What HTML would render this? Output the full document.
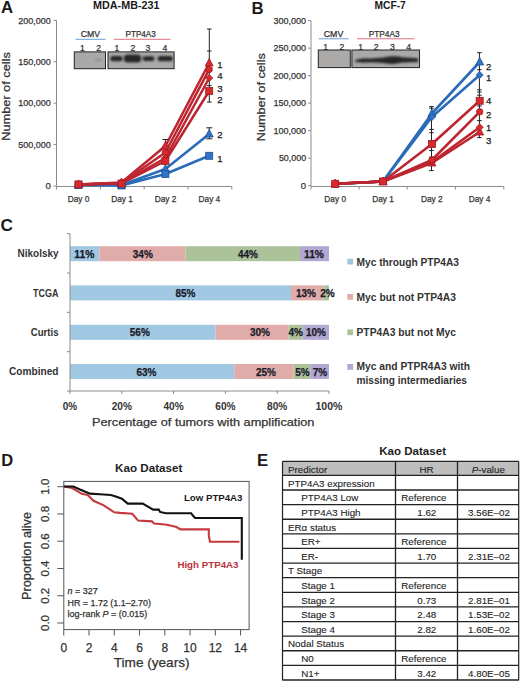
<!DOCTYPE html><html><head><meta charset="utf-8"><style>html,body{margin:0;padding:0;background:#fff;}svg{display:block;}</style></head><body>
<svg width="520" height="681" viewBox="0 0 520 681" font-family='"Liberation Sans", sans-serif'>
<rect width="520" height="681" fill="#fff"/>
<text x="0.9" y="13.4" font-size="16.8" text-anchor="start" fill="#1a1a1a" font-weight="bold" >A</text>
<text x="93" y="8.8" font-size="10" text-anchor="start" fill="#1a1a1a" font-weight="bold" textLength="66.5" lengthAdjust="spacingAndGlyphs" >MDA-MB-231</text>
<text x="50.9" y="23.599999999999998" font-size="9.6" text-anchor="end" fill="#333" stroke="#333" stroke-width="0.25" textLength="32.6" lengthAdjust="spacingAndGlyphs" >200,000</text>
<line x1="53.5" y1="20.4" x2="56.5" y2="20.4" stroke="#8c8c8c" stroke-width="1"/>
<text x="50.9" y="65.0" font-size="9.6" text-anchor="end" fill="#333" stroke="#333" stroke-width="0.25" textLength="32.6" lengthAdjust="spacingAndGlyphs" >150,000</text>
<line x1="53.5" y1="61.8" x2="56.5" y2="61.8" stroke="#8c8c8c" stroke-width="1"/>
<text x="50.9" y="106.4" font-size="9.6" text-anchor="end" fill="#333" stroke="#333" stroke-width="0.25" textLength="32.6" lengthAdjust="spacingAndGlyphs" >100,000</text>
<line x1="53.5" y1="103.2" x2="56.5" y2="103.2" stroke="#8c8c8c" stroke-width="1"/>
<text x="50.9" y="147.79999999999998" font-size="9.6" text-anchor="end" fill="#333" stroke="#333" stroke-width="0.25" textLength="32.6" lengthAdjust="spacingAndGlyphs" >500,000</text>
<line x1="53.5" y1="144.6" x2="56.5" y2="144.6" stroke="#8c8c8c" stroke-width="1"/>
<text x="50.9" y="189.2" font-size="9.6" text-anchor="end" fill="#333" stroke="#333" stroke-width="0.25" >0</text>
<line x1="53.5" y1="186.0" x2="56.5" y2="186.0" stroke="#8c8c8c" stroke-width="1"/>
<line x1="56.5" y1="20.4" x2="56.5" y2="186.5" stroke="#8c8c8c" stroke-width="1"/>
<line x1="56.5" y1="186.5" x2="231.8" y2="186.5" stroke="#8c8c8c" stroke-width="1"/>
<line x1="56.5" y1="186.5" x2="56.5" y2="189.5" stroke="#8c8c8c" stroke-width="1"/>
<line x1="100.3" y1="186.5" x2="100.3" y2="189.5" stroke="#8c8c8c" stroke-width="1"/>
<line x1="144.2" y1="186.5" x2="144.2" y2="189.5" stroke="#8c8c8c" stroke-width="1"/>
<line x1="188.0" y1="186.5" x2="188.0" y2="189.5" stroke="#8c8c8c" stroke-width="1"/>
<line x1="231.8" y1="186.5" x2="231.8" y2="189.5" stroke="#8c8c8c" stroke-width="1"/>
<text x="78.5" y="202.3" font-size="9" text-anchor="middle" fill="#333" stroke="#333" stroke-width="0.25" textLength="21.7" lengthAdjust="spacingAndGlyphs" >Day 0</text>
<text x="122.0" y="202.3" font-size="9" text-anchor="middle" fill="#333" stroke="#333" stroke-width="0.25" textLength="21.7" lengthAdjust="spacingAndGlyphs" >Day 1</text>
<text x="165.6" y="202.3" font-size="9" text-anchor="middle" fill="#333" stroke="#333" stroke-width="0.25" textLength="21.7" lengthAdjust="spacingAndGlyphs" >Day 2</text>
<text x="209.4" y="202.3" font-size="9" text-anchor="middle" fill="#333" stroke="#333" stroke-width="0.25" textLength="21.7" lengthAdjust="spacingAndGlyphs" >Day 4</text>
<text x="0" y="0" font-size="10" fill="#333" stroke="#333" stroke-width="0.25" textLength="88.5" lengthAdjust="spacingAndGlyphs" text-anchor="middle" transform="translate(10.2,96.5) rotate(-90)">Number of cells</text>
<text x="80.75" y="37" font-size="8.6" text-anchor="start" fill="#333" stroke="#333" stroke-width="0.25" textLength="19.3" lengthAdjust="spacingAndGlyphs" >CMV</text>
<text x="125.5" y="37" font-size="8.6" text-anchor="start" fill="#333" stroke="#333" stroke-width="0.25" textLength="30.3" lengthAdjust="spacingAndGlyphs" >PTP4A3</text>
<line x1="75.5" y1="39.3" x2="105.5" y2="39.3" stroke="#6a9fd4" stroke-width="1"/>
<line x1="113.8" y1="39.3" x2="170.5" y2="39.3" stroke="#e07080" stroke-width="1"/>
<text x="82.5" y="51" font-size="8.6" text-anchor="middle" fill="#333" stroke="#333" stroke-width="0.25" >1</text>
<text x="98.75" y="51" font-size="8.6" text-anchor="middle" fill="#333" stroke="#333" stroke-width="0.25" >2</text>
<text x="117" y="51" font-size="8.6" text-anchor="middle" fill="#333" stroke="#333" stroke-width="0.25" >1</text>
<text x="133" y="51" font-size="8.6" text-anchor="middle" fill="#333" stroke="#333" stroke-width="0.25" >2</text>
<text x="148" y="51" font-size="8.6" text-anchor="middle" fill="#333" stroke="#333" stroke-width="0.25" >3</text>
<text x="165" y="51" font-size="8.6" text-anchor="middle" fill="#333" stroke="#333" stroke-width="0.25" >4</text>
<rect x="74.3" y="51.9" width="31.2" height="16.8" fill="#aaa9a9" stroke="#222" stroke-width="1"/>
<rect x="108" y="51.9" width="66.1" height="16.8" fill="#a9a9a9" stroke="#222" stroke-width="1"/>
<defs><filter id="bl" x="-50%" y="-50%" width="200%" height="200%"><feGaussianBlur stdDeviation="0.9"/></filter></defs>
<rect x="110.3" y="56.0" width="12.4" height="5.2" rx="2.6" ry="2.6" fill="#282828" filter="url(#bl)"/>
<rect x="123.7" y="54.6" width="17.6" height="8.0" rx="4.0" ry="4.0" fill="#282828" filter="url(#bl)"/>
<rect x="142.6" y="56.2" width="12.0" height="4.8" rx="2.4" ry="2.4" fill="#282828" filter="url(#bl)"/>
<rect x="157.6" y="55.9" width="15.2" height="5.4" rx="2.7" ry="2.7" fill="#282828" filter="url(#bl)"/>
<ellipse cx="98.5" cy="60" rx="3.5" ry="1.1" fill="#8a8a8a" filter="url(#bl)"/>
<polyline points="78.5,185 121.5,185 165.4,169 209.2,134" fill="none" stroke="#2b6cb9" stroke-width="2.6" stroke-linejoin="round" />
<polyline points="78.5,185 121.5,185.5 165.4,174 209.2,155.8" fill="none" stroke="#2b6cb9" stroke-width="2.6" stroke-linejoin="round" />
<polyline points="78.5,184.4 121.5,182.5 165.4,146 209.2,63" fill="none" stroke="#bd2530" stroke-width="2.5" stroke-linejoin="round" />
<polyline points="78.5,184.4 121.5,183 165.4,152.5 209.2,69.4" fill="none" stroke="#bd2530" stroke-width="2.5" stroke-linejoin="round" />
<polyline points="78.5,184.4 121.5,183 165.4,158 209.2,78" fill="none" stroke="#bd2530" stroke-width="2.5" stroke-linejoin="round" />
<polyline points="78.5,184.4 121.5,183.5 165.4,161 209.2,91" fill="none" stroke="#bd2530" stroke-width="2.5" stroke-linejoin="round" />
<line x1="209.3" y1="29" x2="209.3" y2="102.1" stroke="#222" stroke-width="1"/>
<line x1="207.0" y1="29" x2="211.60000000000002" y2="29" stroke="#222" stroke-width="1"/>
<line x1="207.0" y1="51" x2="211.60000000000002" y2="51" stroke="#222" stroke-width="1"/>
<line x1="207.0" y1="85.6" x2="211.60000000000002" y2="85.6" stroke="#222" stroke-width="1"/>
<line x1="207.0" y1="102.1" x2="211.60000000000002" y2="102.1" stroke="#222" stroke-width="1"/>
<line x1="209.3" y1="127.8" x2="209.3" y2="138.8" stroke="#222" stroke-width="1"/>
<line x1="206.3" y1="127.8" x2="212.3" y2="127.8" stroke="#222" stroke-width="1"/>
<line x1="206.3" y1="138.8" x2="212.3" y2="138.8" stroke="#222" stroke-width="1"/>
<line x1="165.4" y1="139.5" x2="165.4" y2="160" stroke="#222" stroke-width="1"/>
<line x1="162.4" y1="139.5" x2="168.4" y2="139.5" stroke="#222" stroke-width="1"/>
<line x1="162.4" y1="160" x2="168.4" y2="160" stroke="#222" stroke-width="1"/>
<polygon points="78.5,180.5 82.5,188.0 74.5,188.0" fill="#2f74c9" stroke="#1e4f95" stroke-width="0.8"/>
<polygon points="121.5,180.5 125.5,188.0 117.5,188.0" fill="#2f74c9" stroke="#1e4f95" stroke-width="0.8"/>
<polygon points="165.4,164.5 169.4,172.0 161.4,172.0" fill="#2f74c9" stroke="#1e4f95" stroke-width="0.8"/>
<polygon points="209.2,129.5 213.2,137.0 205.2,137.0" fill="#2f74c9" stroke="#1e4f95" stroke-width="0.8"/>
<rect x="75.0" y="181.5" width="7.0" height="7.0" fill="#2f74c9" stroke="#1e4f95" stroke-width="0.8"/>
<rect x="118.0" y="182.0" width="7.0" height="7.0" fill="#2f74c9" stroke="#1e4f95" stroke-width="0.8"/>
<rect x="161.9" y="170.5" width="7.0" height="7.0" fill="#2f74c9" stroke="#1e4f95" stroke-width="0.8"/>
<rect x="205.7" y="152.3" width="7.0" height="7.0" fill="#2f74c9" stroke="#1e4f95" stroke-width="0.8"/>
<polygon points="78.5,179.9 82.5,187.4 74.5,187.4" fill="#d9292d" stroke="#9c1d26" stroke-width="0.8"/>
<polygon points="121.5,178.0 125.5,185.5 117.5,185.5" fill="#d9292d" stroke="#9c1d26" stroke-width="0.8"/>
<polygon points="165.4,141.5 169.4,149.0 161.4,149.0" fill="#d9292d" stroke="#9c1d26" stroke-width="0.8"/>
<polygon points="209.2,58.5 213.2,66.0 205.2,66.0" fill="#d9292d" stroke="#9c1d26" stroke-width="0.8"/>
<circle cx="78.5" cy="184.4" r="3.2" fill="#d9292d" stroke="#9c1d26" stroke-width="0.8"/>
<circle cx="121.5" cy="183" r="3.2" fill="#d9292d" stroke="#9c1d26" stroke-width="0.8"/>
<circle cx="165.4" cy="152.5" r="3.2" fill="#d9292d" stroke="#9c1d26" stroke-width="0.8"/>
<circle cx="209.2" cy="69.4" r="3.2" fill="#d9292d" stroke="#9c1d26" stroke-width="0.8"/>
<polygon points="78.5,180.9 82.0,184.4 78.5,187.9 75.0,184.4" fill="#d9292d" stroke="#9c1d26" stroke-width="0.8"/>
<polygon points="121.5,179.5 125.0,183 121.5,186.5 118.0,183" fill="#d9292d" stroke="#9c1d26" stroke-width="0.8"/>
<polygon points="165.4,154.5 168.9,158 165.4,161.5 161.9,158" fill="#d9292d" stroke="#9c1d26" stroke-width="0.8"/>
<polygon points="209.2,74.5 212.7,78 209.2,81.5 205.7,78" fill="#d9292d" stroke="#9c1d26" stroke-width="0.8"/>
<rect x="75.0" y="180.9" width="7.0" height="7.0" fill="#d9292d" stroke="#9c1d26" stroke-width="0.8"/>
<rect x="118.0" y="180.0" width="7.0" height="7.0" fill="#d9292d" stroke="#9c1d26" stroke-width="0.8"/>
<rect x="161.9" y="157.5" width="7.0" height="7.0" fill="#d9292d" stroke="#9c1d26" stroke-width="0.8"/>
<rect x="205.7" y="87.5" width="7.0" height="7.0" fill="#d9292d" stroke="#9c1d26" stroke-width="0.8"/>
<text x="219.8" y="68" font-size="9.6" text-anchor="middle" fill="#1a1a1a" stroke="#1a1a1a" stroke-width="0.25" >1</text>
<text x="219.8" y="79" font-size="9.6" text-anchor="middle" fill="#1a1a1a" stroke="#1a1a1a" stroke-width="0.25" >4</text>
<text x="219.8" y="91.5" font-size="9.6" text-anchor="middle" fill="#1a1a1a" stroke="#1a1a1a" stroke-width="0.25" >3</text>
<text x="219.8" y="103" font-size="9.6" text-anchor="middle" fill="#1a1a1a" stroke="#1a1a1a" stroke-width="0.25" >2</text>
<text x="219.8" y="138.4" font-size="9.6" text-anchor="middle" fill="#1a1a1a" stroke="#1a1a1a" stroke-width="0.25" >2</text>
<text x="219.8" y="161.9" font-size="9.6" text-anchor="middle" fill="#1a1a1a" stroke="#1a1a1a" stroke-width="0.25" >1</text>
<text x="251.4" y="13.6" font-size="16.8" text-anchor="start" fill="#1a1a1a" font-weight="bold" >B</text>
<text x="374.5" y="8.8" font-size="10" text-anchor="start" fill="#1a1a1a" font-weight="bold" textLength="31.25" lengthAdjust="spacingAndGlyphs" >MCF-7</text>
<text x="306.1" y="23.8" font-size="9.6" text-anchor="end" fill="#333" stroke="#333" stroke-width="0.25" textLength="32.6" lengthAdjust="spacingAndGlyphs" >300,000</text>
<line x1="308" y1="20.6" x2="311" y2="20.6" stroke="#8c8c8c" stroke-width="1"/>
<text x="306.1" y="51.300000000000004" font-size="9.6" text-anchor="end" fill="#333" stroke="#333" stroke-width="0.25" textLength="32.6" lengthAdjust="spacingAndGlyphs" >250,000</text>
<line x1="308" y1="48.1" x2="311" y2="48.1" stroke="#8c8c8c" stroke-width="1"/>
<text x="306.1" y="78.8" font-size="9.6" text-anchor="end" fill="#333" stroke="#333" stroke-width="0.25" textLength="32.6" lengthAdjust="spacingAndGlyphs" >200,000</text>
<line x1="308" y1="75.6" x2="311" y2="75.6" stroke="#8c8c8c" stroke-width="1"/>
<text x="306.1" y="106.3" font-size="9.6" text-anchor="end" fill="#333" stroke="#333" stroke-width="0.25" textLength="32.6" lengthAdjust="spacingAndGlyphs" >150,000</text>
<line x1="308" y1="103.1" x2="311" y2="103.1" stroke="#8c8c8c" stroke-width="1"/>
<text x="306.1" y="133.79999999999998" font-size="9.6" text-anchor="end" fill="#333" stroke="#333" stroke-width="0.25" textLength="32.6" lengthAdjust="spacingAndGlyphs" >100,000</text>
<line x1="308" y1="130.6" x2="311" y2="130.6" stroke="#8c8c8c" stroke-width="1"/>
<text x="306.1" y="161.29999999999998" font-size="9.6" text-anchor="end" fill="#333" stroke="#333" stroke-width="0.25" textLength="27.2" lengthAdjust="spacingAndGlyphs" >50,000</text>
<line x1="308" y1="158.1" x2="311" y2="158.1" stroke="#8c8c8c" stroke-width="1"/>
<text x="306.1" y="188.79999999999998" font-size="9.6" text-anchor="end" fill="#333" stroke="#333" stroke-width="0.25" >0</text>
<line x1="308" y1="185.6" x2="311" y2="185.6" stroke="#8c8c8c" stroke-width="1"/>
<line x1="311" y1="20.6" x2="311" y2="186.5" stroke="#8c8c8c" stroke-width="1"/>
<line x1="311" y1="186.5" x2="503.8" y2="186.5" stroke="#8c8c8c" stroke-width="1"/>
<line x1="311" y1="186.5" x2="311" y2="189.5" stroke="#8c8c8c" stroke-width="1"/>
<line x1="359.1" y1="186.5" x2="359.1" y2="189.5" stroke="#8c8c8c" stroke-width="1"/>
<line x1="407.2" y1="186.5" x2="407.2" y2="189.5" stroke="#8c8c8c" stroke-width="1"/>
<line x1="455.4" y1="186.5" x2="455.4" y2="189.5" stroke="#8c8c8c" stroke-width="1"/>
<line x1="503.8" y1="186.5" x2="503.8" y2="189.5" stroke="#8c8c8c" stroke-width="1"/>
<text x="335.2" y="202.3" font-size="9" text-anchor="middle" fill="#333" stroke="#333" stroke-width="0.25" textLength="21.7" lengthAdjust="spacingAndGlyphs" >Day 0</text>
<text x="383.0" y="202.3" font-size="9" text-anchor="middle" fill="#333" stroke="#333" stroke-width="0.25" textLength="21.7" lengthAdjust="spacingAndGlyphs" >Day 1</text>
<text x="431.8" y="202.3" font-size="9" text-anchor="middle" fill="#333" stroke="#333" stroke-width="0.25" textLength="21.7" lengthAdjust="spacingAndGlyphs" >Day 2</text>
<text x="479.6" y="202.3" font-size="9" text-anchor="middle" fill="#333" stroke="#333" stroke-width="0.25" textLength="21.7" lengthAdjust="spacingAndGlyphs" >Day 4</text>
<text x="0" y="0" font-size="10" fill="#333" stroke="#333" stroke-width="0.25" textLength="88" lengthAdjust="spacingAndGlyphs" text-anchor="middle" transform="translate(265,97.2) rotate(-90)">Number of cells</text>
<text x="323.75" y="37" font-size="8.6" text-anchor="start" fill="#333" stroke="#333" stroke-width="0.25" textLength="19.5" lengthAdjust="spacingAndGlyphs" >CMV</text>
<text x="368.75" y="37" font-size="8.6" text-anchor="start" fill="#333" stroke="#333" stroke-width="0.25" textLength="30.75" lengthAdjust="spacingAndGlyphs" >PTP4A3</text>
<line x1="318.75" y1="38.8" x2="348.75" y2="38.8" stroke="#6a9fd4" stroke-width="1"/>
<line x1="357" y1="38.8" x2="414.5" y2="38.8" stroke="#e07080" stroke-width="1"/>
<text x="325.75" y="50" font-size="8.6" text-anchor="middle" fill="#333" stroke="#333" stroke-width="0.25" >1</text>
<text x="342" y="50" font-size="8.6" text-anchor="middle" fill="#333" stroke="#333" stroke-width="0.25" >2</text>
<text x="360.75" y="50" font-size="8.6" text-anchor="middle" fill="#333" stroke="#333" stroke-width="0.25" >1</text>
<text x="376.25" y="50" font-size="8.6" text-anchor="middle" fill="#333" stroke="#333" stroke-width="0.25" >2</text>
<text x="392.5" y="50" font-size="8.6" text-anchor="middle" fill="#333" stroke="#333" stroke-width="0.25" >3</text>
<text x="408.75" y="50" font-size="8.6" text-anchor="middle" fill="#333" stroke="#333" stroke-width="0.25" >4</text>
<rect x="318.3" y="50" width="32" height="17.6" fill="#abaaa8" stroke="#222" stroke-width="1"/>
<rect x="351.9" y="50" width="67.6" height="17.6" fill="#a9a9a9" stroke="#222" stroke-width="1"/>
<path d="M355,60.5 C358,58.3 365,58.3 370,58.6 C376,58 380,58 384,57.6 C390,55.8 398,55.8 402,57.3 C408,57.8 414,57.8 418,58.6 L418,62 C414,62.3 408,62.3 402,62.6 C398,64.2 390,64.2 384,63.2 C378,62.8 372,62.8 368,62.6 C362,62.9 358,62.6 355,61.6 Z" fill="#262626" filter="url(#bl)"/>
<polyline points="335.2,184 383.0,181.5 431.9,113.5 479.7,62" fill="none" stroke="#2b6cb9" stroke-width="2.6" stroke-linejoin="round" />
<polyline points="335.2,184 383.0,181.5 431.9,117 479.7,74.9" fill="none" stroke="#2b6cb9" stroke-width="2.6" stroke-linejoin="round" />
<polyline points="335.2,183.8 383.0,181.5 431.9,144 479.7,100.8" fill="none" stroke="#bd2530" stroke-width="2.6" stroke-linejoin="round" />
<polyline points="335.2,183.8 383.0,181.5 431.9,160 479.7,111.8" fill="none" stroke="#bd2530" stroke-width="2.6" stroke-linejoin="round" />
<polyline points="335.2,183.8 383.0,181.5 431.9,162 479.7,127.3" fill="none" stroke="#bd2530" stroke-width="2.6" stroke-linejoin="round" />
<polyline points="335.2,183.8 383.0,181.5 431.9,163 479.7,132" fill="none" stroke="#bd2530" stroke-width="2.6" stroke-linejoin="round" />
<line x1="479.4" y1="52.7" x2="479.4" y2="137.6" stroke="#222" stroke-width="1"/>
<line x1="477.09999999999997" y1="52.7" x2="481.7" y2="52.7" stroke="#222" stroke-width="1"/>
<line x1="477.09999999999997" y1="69.7" x2="481.7" y2="69.7" stroke="#222" stroke-width="1"/>
<line x1="477.09999999999997" y1="89.8" x2="481.7" y2="89.8" stroke="#222" stroke-width="1"/>
<line x1="477.09999999999997" y1="92" x2="481.7" y2="92" stroke="#222" stroke-width="1"/>
<line x1="477.09999999999997" y1="95.2" x2="481.7" y2="95.2" stroke="#222" stroke-width="1"/>
<line x1="477.09999999999997" y1="106" x2="481.7" y2="106" stroke="#222" stroke-width="1"/>
<line x1="477.09999999999997" y1="120.6" x2="481.7" y2="120.6" stroke="#222" stroke-width="1"/>
<line x1="477.09999999999997" y1="137.6" x2="481.7" y2="137.6" stroke="#222" stroke-width="1"/>
<line x1="431.5" y1="106.6" x2="431.5" y2="170.6" stroke="#222" stroke-width="1"/>
<line x1="429.2" y1="106.6" x2="433.8" y2="106.6" stroke="#222" stroke-width="1"/>
<line x1="429.2" y1="108.2" x2="433.8" y2="108.2" stroke="#222" stroke-width="1"/>
<line x1="429.2" y1="129.4" x2="433.8" y2="129.4" stroke="#222" stroke-width="1"/>
<line x1="429.2" y1="132.7" x2="433.8" y2="132.7" stroke="#222" stroke-width="1"/>
<line x1="429.2" y1="150.5" x2="433.8" y2="150.5" stroke="#222" stroke-width="1"/>
<line x1="429.2" y1="157.1" x2="433.8" y2="157.1" stroke="#222" stroke-width="1"/>
<line x1="429.2" y1="170.6" x2="433.8" y2="170.6" stroke="#222" stroke-width="1"/>
<polygon points="335.2,179.5 339.2,187.0 331.2,187.0" fill="#2f74c9" stroke="#1e4f95" stroke-width="0.8"/>
<polygon points="383.0,177.0 387.0,184.5 379.0,184.5" fill="#2f74c9" stroke="#1e4f95" stroke-width="0.8"/>
<polygon points="431.9,109.0 435.9,116.5 427.9,116.5" fill="#2f74c9" stroke="#1e4f95" stroke-width="0.8"/>
<polygon points="479.7,57.5 483.7,65.0 475.7,65.0" fill="#2f74c9" stroke="#1e4f95" stroke-width="0.8"/>
<polygon points="335.2,180.5 338.7,184 335.2,187.5 331.7,184" fill="#2f74c9" stroke="#1e4f95" stroke-width="0.8"/>
<polygon points="383.0,178.0 386.5,181.5 383.0,185.0 379.5,181.5" fill="#2f74c9" stroke="#1e4f95" stroke-width="0.8"/>
<polygon points="431.9,113.5 435.4,117 431.9,120.5 428.4,117" fill="#2f74c9" stroke="#1e4f95" stroke-width="0.8"/>
<polygon points="479.7,71.4 483.2,74.9 479.7,78.4 476.2,74.9" fill="#2f74c9" stroke="#1e4f95" stroke-width="0.8"/>
<polygon points="335.2,179.3 339.2,186.8 331.2,186.8" fill="#d9292d" stroke="#9c1d26" stroke-width="0.8"/>
<polygon points="383.0,177.0 387.0,184.5 379.0,184.5" fill="#d9292d" stroke="#9c1d26" stroke-width="0.8"/>
<polygon points="431.9,158.5 435.9,166.0 427.9,166.0" fill="#d9292d" stroke="#9c1d26" stroke-width="0.8"/>
<polygon points="479.7,127.5 483.7,135.0 475.7,135.0" fill="#d9292d" stroke="#9c1d26" stroke-width="0.8"/>
<polygon points="335.2,180.3 338.7,183.8 335.2,187.3 331.7,183.8" fill="#d9292d" stroke="#9c1d26" stroke-width="0.8"/>
<polygon points="383.0,178.0 386.5,181.5 383.0,185.0 379.5,181.5" fill="#d9292d" stroke="#9c1d26" stroke-width="0.8"/>
<polygon points="431.9,158.5 435.4,162 431.9,165.5 428.4,162" fill="#d9292d" stroke="#9c1d26" stroke-width="0.8"/>
<polygon points="479.7,123.8 483.2,127.3 479.7,130.8 476.2,127.3" fill="#d9292d" stroke="#9c1d26" stroke-width="0.8"/>
<circle cx="335.2" cy="183.8" r="3.2" fill="#d9292d" stroke="#9c1d26" stroke-width="0.8"/>
<circle cx="383.0" cy="181.5" r="3.2" fill="#d9292d" stroke="#9c1d26" stroke-width="0.8"/>
<circle cx="431.9" cy="160" r="3.2" fill="#d9292d" stroke="#9c1d26" stroke-width="0.8"/>
<circle cx="479.7" cy="111.8" r="3.2" fill="#d9292d" stroke="#9c1d26" stroke-width="0.8"/>
<rect x="331.7" y="180.3" width="7.0" height="7.0" fill="#d9292d" stroke="#9c1d26" stroke-width="0.8"/>
<rect x="379.5" y="178.0" width="7.0" height="7.0" fill="#d9292d" stroke="#9c1d26" stroke-width="0.8"/>
<rect x="428.4" y="140.5" width="7.0" height="7.0" fill="#d9292d" stroke="#9c1d26" stroke-width="0.8"/>
<rect x="476.2" y="97.3" width="7.0" height="7.0" fill="#d9292d" stroke="#9c1d26" stroke-width="0.8"/>
<text x="488.6" y="69.7" font-size="9.6" text-anchor="middle" fill="#1a1a1a" stroke="#1a1a1a" stroke-width="0.25" >2</text>
<text x="488.6" y="81.3" font-size="9.6" text-anchor="middle" fill="#1a1a1a" stroke="#1a1a1a" stroke-width="0.25" >1</text>
<text x="488.6" y="104.4" font-size="9.6" text-anchor="middle" fill="#1a1a1a" stroke="#1a1a1a" stroke-width="0.25" >4</text>
<text x="488.6" y="117.5" font-size="9.6" text-anchor="middle" fill="#1a1a1a" stroke="#1a1a1a" stroke-width="0.25" >2</text>
<text x="488.6" y="130.6" font-size="9.6" text-anchor="middle" fill="#1a1a1a" stroke="#1a1a1a" stroke-width="0.25" >1</text>
<text x="488.6" y="143.8" font-size="9.6" text-anchor="middle" fill="#1a1a1a" stroke="#1a1a1a" stroke-width="0.25" >3</text>
<text x="0.6" y="231" font-size="17.2" text-anchor="start" fill="#1a1a1a" font-weight="bold" >C</text>
<rect x="70" y="246.2" width="29.400000000000006" height="15" fill="#a0c8e3" stroke="none" stroke-width="0"/>
<rect x="99.4" y="246.2" width="86.19999999999999" height="15" fill="#dfacaa" stroke="none" stroke-width="0"/>
<rect x="185.6" y="246.2" width="114.4" height="15" fill="#acc39a" stroke="none" stroke-width="0"/>
<rect x="300.0" y="246.2" width="29.0" height="15" fill="#b3a8d2" stroke="none" stroke-width="0"/>
<text x="58.5" y="257.4" font-size="10.5" text-anchor="end" fill="#333" font-weight="bold" textLength="40.9" lengthAdjust="spacingAndGlyphs" >Nikolsky</text>
<text x="84.3" y="257.7" font-size="10.5" text-anchor="middle" fill="#1a1a2a" font-weight="bold" textLength="20" lengthAdjust="spacingAndGlyphs" stroke="#1a1a2a" stroke-width="0.25">11%</text>
<text x="142.8" y="257.7" font-size="10.5" text-anchor="middle" fill="#1a1a2a" font-weight="bold" textLength="20" lengthAdjust="spacingAndGlyphs" stroke="#1a1a2a" stroke-width="0.25">34%</text>
<text x="248" y="257.7" font-size="10.5" text-anchor="middle" fill="#1a1a2a" font-weight="bold" textLength="20" lengthAdjust="spacingAndGlyphs" stroke="#1a1a2a" stroke-width="0.25">44%</text>
<text x="314" y="257.7" font-size="10.5" text-anchor="middle" fill="#1a1a2a" font-weight="bold" textLength="20" lengthAdjust="spacingAndGlyphs" stroke="#1a1a2a" stroke-width="0.25">11%</text>
<rect x="70" y="285.4" width="221" height="15" fill="#a0c8e3" stroke="none" stroke-width="0"/>
<rect x="291" y="285.4" width="32.5" height="15" fill="#dfacaa" stroke="none" stroke-width="0"/>
<rect x="323.5" y="285.4" width="5.5" height="15" fill="#acc39a" stroke="none" stroke-width="0"/>
<text x="58.5" y="296.59999999999997" font-size="10.5" text-anchor="end" fill="#333" font-weight="bold" textLength="25.4" lengthAdjust="spacingAndGlyphs" >TCGA</text>
<text x="185.5" y="296.9" font-size="10.5" text-anchor="middle" fill="#1a1a2a" font-weight="bold" textLength="20" lengthAdjust="spacingAndGlyphs" stroke="#1a1a2a" stroke-width="0.25">85%</text>
<text x="306" y="296.9" font-size="10.5" text-anchor="middle" fill="#1a1a2a" font-weight="bold" textLength="20" lengthAdjust="spacingAndGlyphs" stroke="#1a1a2a" stroke-width="0.25">13%</text>
<text x="327.5" y="296.9" font-size="10.5" text-anchor="middle" fill="#1a1a2a" font-weight="bold" textLength="14.5" lengthAdjust="spacingAndGlyphs" stroke="#1a1a2a" stroke-width="0.25">2%</text>
<rect x="70" y="324.8" width="145.6" height="15" fill="#a0c8e3" stroke="none" stroke-width="0"/>
<rect x="215.6" y="324.8" width="73.00000000000003" height="15" fill="#dfacaa" stroke="none" stroke-width="0"/>
<rect x="288.6" y="324.8" width="13.699999999999989" height="15" fill="#acc39a" stroke="none" stroke-width="0"/>
<rect x="302.3" y="324.8" width="26.69999999999999" height="15" fill="#b3a8d2" stroke="none" stroke-width="0"/>
<text x="58.5" y="336.0" font-size="10.5" text-anchor="end" fill="#333" font-weight="bold" textLength="27.8" lengthAdjust="spacingAndGlyphs" >Curtis</text>
<text x="139.8" y="336.3" font-size="10.5" text-anchor="middle" fill="#1a1a2a" font-weight="bold" textLength="20" lengthAdjust="spacingAndGlyphs" stroke="#1a1a2a" stroke-width="0.25">56%</text>
<text x="260" y="336.3" font-size="10.5" text-anchor="middle" fill="#1a1a2a" font-weight="bold" textLength="20" lengthAdjust="spacingAndGlyphs" stroke="#1a1a2a" stroke-width="0.25">30%</text>
<text x="295.7" y="336.3" font-size="10.5" text-anchor="middle" fill="#1a1a2a" font-weight="bold" textLength="14.5" lengthAdjust="spacingAndGlyphs" stroke="#1a1a2a" stroke-width="0.25">4%</text>
<text x="316" y="336.3" font-size="10.5" text-anchor="middle" fill="#1a1a2a" font-weight="bold" textLength="20" lengthAdjust="spacingAndGlyphs" stroke="#1a1a2a" stroke-width="0.25">10%</text>
<rect x="70" y="364.0" width="164.3" height="15" fill="#a0c8e3" stroke="none" stroke-width="0"/>
<rect x="234.3" y="364.0" width="59.30000000000001" height="15" fill="#dfacaa" stroke="none" stroke-width="0"/>
<rect x="293.6" y="364.0" width="16.69999999999999" height="15" fill="#acc39a" stroke="none" stroke-width="0"/>
<rect x="310.3" y="364.0" width="18.69999999999999" height="15" fill="#b3a8d2" stroke="none" stroke-width="0"/>
<text x="58.5" y="375.2" font-size="10.5" text-anchor="end" fill="#333" font-weight="bold" textLength="49.6" lengthAdjust="spacingAndGlyphs" >Combined</text>
<text x="146.5" y="375.5" font-size="10.5" text-anchor="middle" fill="#1a1a2a" font-weight="bold" textLength="20" lengthAdjust="spacingAndGlyphs" stroke="#1a1a2a" stroke-width="0.25">63%</text>
<text x="266" y="375.5" font-size="10.5" text-anchor="middle" fill="#1a1a2a" font-weight="bold" textLength="20" lengthAdjust="spacingAndGlyphs" stroke="#1a1a2a" stroke-width="0.25">25%</text>
<text x="302.4" y="375.5" font-size="10.5" text-anchor="middle" fill="#1a1a2a" font-weight="bold" textLength="14.5" lengthAdjust="spacingAndGlyphs" stroke="#1a1a2a" stroke-width="0.25">5%</text>
<text x="320" y="375.5" font-size="10.5" text-anchor="middle" fill="#1a1a2a" font-weight="bold" textLength="14.5" lengthAdjust="spacingAndGlyphs" stroke="#1a1a2a" stroke-width="0.25">7%</text>
<line x1="70" y1="233.7" x2="70" y2="391" stroke="#8c8c8c" stroke-width="1"/>
<line x1="67" y1="233.7" x2="70" y2="233.7" stroke="#8c8c8c" stroke-width="1"/>
<line x1="67" y1="273.1" x2="70" y2="273.1" stroke="#8c8c8c" stroke-width="1"/>
<line x1="67" y1="312.3" x2="70" y2="312.3" stroke="#8c8c8c" stroke-width="1"/>
<line x1="67" y1="351.7" x2="70" y2="351.7" stroke="#8c8c8c" stroke-width="1"/>
<line x1="67" y1="391.1" x2="70" y2="391.1" stroke="#8c8c8c" stroke-width="1"/>
<line x1="70" y1="391" x2="329" y2="391" stroke="#8c8c8c" stroke-width="1"/>
<line x1="70.0" y1="391" x2="70.0" y2="394" stroke="#8c8c8c" stroke-width="1"/>
<line x1="121.8" y1="391" x2="121.8" y2="394" stroke="#8c8c8c" stroke-width="1"/>
<line x1="173.6" y1="391" x2="173.6" y2="394" stroke="#8c8c8c" stroke-width="1"/>
<line x1="225.39999999999998" y1="391" x2="225.39999999999998" y2="394" stroke="#8c8c8c" stroke-width="1"/>
<line x1="277.2" y1="391" x2="277.2" y2="394" stroke="#8c8c8c" stroke-width="1"/>
<line x1="329.0" y1="391" x2="329.0" y2="394" stroke="#8c8c8c" stroke-width="1"/>
<text x="70.0" y="410.4" font-size="10" text-anchor="middle" fill="#333" font-weight="bold" textLength="14.4" lengthAdjust="spacingAndGlyphs" >0%</text>
<text x="121.8" y="410.4" font-size="10" text-anchor="middle" fill="#333" font-weight="bold" textLength="20.2" lengthAdjust="spacingAndGlyphs" >20%</text>
<text x="173.6" y="410.4" font-size="10" text-anchor="middle" fill="#333" font-weight="bold" textLength="20.2" lengthAdjust="spacingAndGlyphs" >40%</text>
<text x="225.39999999999998" y="410.4" font-size="10" text-anchor="middle" fill="#333" font-weight="bold" textLength="20.2" lengthAdjust="spacingAndGlyphs" >60%</text>
<text x="277.2" y="410.4" font-size="10" text-anchor="middle" fill="#333" font-weight="bold" textLength="20.2" lengthAdjust="spacingAndGlyphs" >80%</text>
<text x="329.0" y="410.4" font-size="10" text-anchor="middle" fill="#333" font-weight="bold" textLength="27" lengthAdjust="spacingAndGlyphs" >100%</text>
<text x="92" y="426.2" font-size="11.5" text-anchor="start" fill="#333" stroke="#333" stroke-width="0.25" textLength="222.4" lengthAdjust="spacingAndGlyphs" >Percentage of tumors with amplification</text>
<rect x="347.3" y="258.7" width="5.8" height="5.8" fill="#a0c8e3" stroke="none" stroke-width="0"/>
<text x="356.5" y="266" font-size="10.5" text-anchor="start" fill="#333" font-weight="bold" textLength="102.5" lengthAdjust="spacingAndGlyphs" >Myc through PTP4A3</text>
<rect x="347.3" y="294" width="5.8" height="5.8" fill="#dfacaa" stroke="none" stroke-width="0"/>
<text x="356.5" y="300.6" font-size="10.5" text-anchor="start" fill="#333" font-weight="bold" textLength="99.5" lengthAdjust="spacingAndGlyphs" >Myc but not PTP4A3</text>
<rect x="347.3" y="329.4" width="5.8" height="5.8" fill="#acc39a" stroke="none" stroke-width="0"/>
<text x="356.5" y="335.8" font-size="10.5" text-anchor="start" fill="#333" font-weight="bold" textLength="99.5" lengthAdjust="spacingAndGlyphs" >PTP4A3 but not Myc</text>
<rect x="347.3" y="364" width="5.8" height="5.8" fill="#b3a8d2" stroke="none" stroke-width="0"/>
<text x="356.5" y="370.4" font-size="10.5" text-anchor="start" fill="#333" font-weight="bold" textLength="113.5" lengthAdjust="spacingAndGlyphs" >Myc and PTPR4A3 with</text>
<text x="356.5" y="384.2" font-size="10.5" text-anchor="start" fill="#333" font-weight="bold" textLength="110.5" lengthAdjust="spacingAndGlyphs" >missing intermediaries</text>
<text x="1.2" y="465.5" font-size="16.5" text-anchor="start" fill="#1a1a1a" font-weight="bold" >D</text>
<text x="115" y="471.8" font-size="11.7" text-anchor="start" fill="#222" font-weight="bold" textLength="67.5" lengthAdjust="spacingAndGlyphs" >Kao Dataset</text>
<polyline points="63.8,486.5 72.1,488 81.9,493.8 87.7,495 93.5,500.8 103.8,505.4 114.2,512.3 120,512.9 132.3,513.7 138.1,520.6 151.9,521.4 154.2,523.5 165,524.5 169.1,525.3 176.4,527 180.5,529.4 208.8,529.4 208.8,536 210,541.7 239.4,541.7" fill="none" stroke="#c43a3e" stroke-width="2.1"/>
<polyline points="63.8,486.5 73.3,486.5 80,489.5 90,493.6 100,494.3 110.8,495 115,496.3 121.9,498.7 127.7,503.6 142.7,503.6 153.1,509.6 158.8,509.6 160,511.9 165.8,513.2 191.2,513.2 192.8,515.5 195.2,518 241.8,518 241.8,559.7" fill="none" stroke="#111" stroke-width="2.1"/>
<rect x="63.8" y="481.4" width="185.3" height="148.2" fill="none" stroke="#555" stroke-width="1"/>
<line x1="57.3" y1="486.7" x2="63.8" y2="486.7" stroke="#555" stroke-width="1"/>
<text x="0" y="0" font-size="11.5" fill="#333" stroke="#333" stroke-width="0.25" text-anchor="middle" transform="translate(49,486.7) rotate(-90)">1.0</text>
<line x1="57.3" y1="513.96" x2="63.8" y2="513.96" stroke="#555" stroke-width="1"/>
<text x="0" y="0" font-size="11.5" fill="#333" stroke="#333" stroke-width="0.25" text-anchor="middle" transform="translate(49,513.96) rotate(-90)">0.8</text>
<line x1="57.3" y1="541.22" x2="63.8" y2="541.22" stroke="#555" stroke-width="1"/>
<text x="0" y="0" font-size="11.5" fill="#333" stroke="#333" stroke-width="0.25" text-anchor="middle" transform="translate(49,541.22) rotate(-90)">0.6</text>
<line x1="57.3" y1="568.48" x2="63.8" y2="568.48" stroke="#555" stroke-width="1"/>
<text x="0" y="0" font-size="11.5" fill="#333" stroke="#333" stroke-width="0.25" text-anchor="middle" transform="translate(49,568.48) rotate(-90)">0.4</text>
<line x1="57.3" y1="595.74" x2="63.8" y2="595.74" stroke="#555" stroke-width="1"/>
<text x="0" y="0" font-size="11.5" fill="#333" stroke="#333" stroke-width="0.25" text-anchor="middle" transform="translate(49,595.74) rotate(-90)">0.2</text>
<line x1="57.3" y1="623.0" x2="63.8" y2="623.0" stroke="#555" stroke-width="1"/>
<text x="0" y="0" font-size="11.5" fill="#333" stroke="#333" stroke-width="0.25" text-anchor="middle" transform="translate(49,623.0) rotate(-90)">0.0</text>
<line x1="63.75" y1="629.6" x2="63.75" y2="635.5" stroke="#555" stroke-width="1"/>
<text x="63.75" y="651.8" font-size="12" text-anchor="middle" fill="#333" stroke="#333" stroke-width="0.25" >0</text>
<line x1="89.01" y1="629.6" x2="89.01" y2="635.5" stroke="#555" stroke-width="1"/>
<text x="89.01" y="651.8" font-size="12" text-anchor="middle" fill="#333" stroke="#333" stroke-width="0.25" >2</text>
<line x1="114.27000000000001" y1="629.6" x2="114.27000000000001" y2="635.5" stroke="#555" stroke-width="1"/>
<text x="114.27000000000001" y="651.8" font-size="12" text-anchor="middle" fill="#333" stroke="#333" stroke-width="0.25" >4</text>
<line x1="139.53" y1="629.6" x2="139.53" y2="635.5" stroke="#555" stroke-width="1"/>
<text x="139.53" y="651.8" font-size="12" text-anchor="middle" fill="#333" stroke="#333" stroke-width="0.25" >6</text>
<line x1="164.79000000000002" y1="629.6" x2="164.79000000000002" y2="635.5" stroke="#555" stroke-width="1"/>
<text x="164.79000000000002" y="651.8" font-size="12" text-anchor="middle" fill="#333" stroke="#333" stroke-width="0.25" >8</text>
<line x1="190.05" y1="629.6" x2="190.05" y2="635.5" stroke="#555" stroke-width="1"/>
<text x="190.05" y="651.8" font-size="12" text-anchor="middle" fill="#333" stroke="#333" stroke-width="0.25" >10</text>
<line x1="215.31" y1="629.6" x2="215.31" y2="635.5" stroke="#555" stroke-width="1"/>
<text x="215.31" y="651.8" font-size="12" text-anchor="middle" fill="#333" stroke="#333" stroke-width="0.25" >12</text>
<line x1="240.57000000000002" y1="629.6" x2="240.57000000000002" y2="635.5" stroke="#555" stroke-width="1"/>
<text x="240.57000000000002" y="651.8" font-size="12" text-anchor="middle" fill="#333" stroke="#333" stroke-width="0.25" >14</text>
<text x="0" y="0" font-size="12.7" fill="#333" stroke="#333" stroke-width="0.25" text-anchor="middle" textLength="88" lengthAdjust="spacingAndGlyphs" transform="translate(31,556) rotate(-90)">Proportion alive</text>
<text x="113.75" y="666.5" font-size="13.5" text-anchor="start" fill="#333" stroke="#333" stroke-width="0.25" textLength="75.75" lengthAdjust="spacingAndGlyphs" >Time (years)</text>
<text x="183.9" y="501.3" font-size="9.6" text-anchor="start" fill="#1a1a1a" font-weight="bold" textLength="58.6" lengthAdjust="spacingAndGlyphs" >Low PTP4A3</text>
<text x="177.4" y="567.7" font-size="9.6" text-anchor="start" fill="#b8343a" font-weight="bold" textLength="61.1" lengthAdjust="spacingAndGlyphs" >High PTP4A3</text>
<text x="67.5" y="593.8" font-size="9" fill="#333" stroke="#333" stroke-width="0.25"><tspan font-style="italic">n</tspan> = 327</text>
<text x="67.5" y="605.5" font-size="9" text-anchor="start" fill="#333" stroke="#333" stroke-width="0.25" textLength="83.5" lengthAdjust="spacingAndGlyphs" >HR = 1.72 (1.1–2.70)</text>
<text x="67.5" y="617" font-size="9" fill="#333" stroke="#333" stroke-width="0.25">log-rank <tspan font-style="italic">P</tspan> = (0.015)</text>
<text x="257" y="465.7" font-size="16.8" text-anchor="start" fill="#1a1a1a" font-weight="bold" >E</text>
<text x="379.2" y="454.8" font-size="11.6" text-anchor="start" fill="#222" font-weight="bold" textLength="66.8" lengthAdjust="spacingAndGlyphs" >Kao Dataset</text>
<rect x="282.5" y="461.4" width="236.20000000000005" height="14.0" fill="#bebebe" stroke="none" stroke-width="0"/>
<text x="288" y="472.59999999999997" font-size="9.8" text-anchor="start" fill="#222" stroke="#222" stroke-width="0.1" >Predictor</text>
<text x="426.5" y="472.59999999999997" font-size="9.8" text-anchor="middle" fill="#222" stroke="#222" stroke-width="0.1" >HR</text>
<text x="488.3" y="472.59999999999997" font-size="9.8" fill="#222" stroke="#222" stroke-width="0.1" text-anchor="middle"><tspan font-style="italic">P</tspan>-value</text>
<text x="288" y="486.7" font-size="9.8" text-anchor="start" fill="#222" stroke="#222" stroke-width="0.1" >PTP4A3 expression</text>
<text x="301.2" y="501.31" font-size="9.8" text-anchor="start" fill="#222" stroke="#222" stroke-width="0.1" >PTP4A3 Low</text>
<text x="401.3" y="501.31" font-size="9.8" text-anchor="start" fill="#222" stroke="#222" stroke-width="0.1" >Reference</text>
<text x="301.2" y="515.93" font-size="9.8" text-anchor="start" fill="#222" stroke="#222" stroke-width="0.1" >PTP4A3 High</text>
<text x="426.8" y="515.93" font-size="9.8" text-anchor="middle" fill="#222" stroke="#222" stroke-width="0.1" >1.62</text>
<text x="489" y="515.93" font-size="9.8" text-anchor="middle" fill="#222" stroke="#222" stroke-width="0.1" >3.56E–02</text>
<text x="288" y="530.54" font-size="9.8" text-anchor="start" fill="#222" stroke="#222" stroke-width="0.1" >ERα status</text>
<text x="301.2" y="545.16" font-size="9.8" text-anchor="start" fill="#222" stroke="#222" stroke-width="0.1" >ER+</text>
<text x="401.3" y="545.16" font-size="9.8" text-anchor="start" fill="#222" stroke="#222" stroke-width="0.1" >Reference</text>
<text x="301.2" y="559.77" font-size="9.8" text-anchor="start" fill="#222" stroke="#222" stroke-width="0.1" >ER-</text>
<text x="426.8" y="559.77" font-size="9.8" text-anchor="middle" fill="#222" stroke="#222" stroke-width="0.1" >1.70</text>
<text x="489" y="559.77" font-size="9.8" text-anchor="middle" fill="#222" stroke="#222" stroke-width="0.1" >2.31E–02</text>
<text x="288" y="574.39" font-size="9.8" text-anchor="start" fill="#222" stroke="#222" stroke-width="0.1" >T Stage</text>
<text x="301.2" y="589.0" font-size="9.8" text-anchor="start" fill="#222" stroke="#222" stroke-width="0.1" >Stage 1</text>
<text x="401.3" y="589.0" font-size="9.8" text-anchor="start" fill="#222" stroke="#222" stroke-width="0.1" >Reference</text>
<text x="301.2" y="603.61" font-size="9.8" text-anchor="start" fill="#222" stroke="#222" stroke-width="0.1" >Stage 2</text>
<text x="426.8" y="603.61" font-size="9.8" text-anchor="middle" fill="#222" stroke="#222" stroke-width="0.1" >0.73</text>
<text x="489" y="603.61" font-size="9.8" text-anchor="middle" fill="#222" stroke="#222" stroke-width="0.1" >2.81E–01</text>
<text x="301.2" y="618.23" font-size="9.8" text-anchor="start" fill="#222" stroke="#222" stroke-width="0.1" >Stage 3</text>
<text x="426.8" y="618.23" font-size="9.8" text-anchor="middle" fill="#222" stroke="#222" stroke-width="0.1" >2.48</text>
<text x="489" y="618.23" font-size="9.8" text-anchor="middle" fill="#222" stroke="#222" stroke-width="0.1" >1.53E–02</text>
<text x="301.2" y="632.84" font-size="9.8" text-anchor="start" fill="#222" stroke="#222" stroke-width="0.1" >Stage 4</text>
<text x="426.8" y="632.84" font-size="9.8" text-anchor="middle" fill="#222" stroke="#222" stroke-width="0.1" >2.82</text>
<text x="489" y="632.84" font-size="9.8" text-anchor="middle" fill="#222" stroke="#222" stroke-width="0.1" >1.60E–02</text>
<text x="288" y="647.46" font-size="9.8" text-anchor="start" fill="#222" stroke="#222" stroke-width="0.1" >Nodal Status</text>
<text x="301.2" y="662.07" font-size="9.8" text-anchor="start" fill="#222" stroke="#222" stroke-width="0.1" >N0</text>
<text x="401.3" y="662.07" font-size="9.8" text-anchor="start" fill="#222" stroke="#222" stroke-width="0.1" >Reference</text>
<text x="301.2" y="676.69" font-size="9.8" text-anchor="start" fill="#222" stroke="#222" stroke-width="0.1" >N1+</text>
<text x="426.8" y="676.69" font-size="9.8" text-anchor="middle" fill="#222" stroke="#222" stroke-width="0.1" >3.42</text>
<text x="489" y="676.69" font-size="9.8" text-anchor="middle" fill="#222" stroke="#222" stroke-width="0.1" >4.80E–05</text>
<line x1="282.5" y1="475.4" x2="518.7" y2="475.4" stroke="#222" stroke-width="1.3"/>
<line x1="282.5" y1="490.01" x2="518.7" y2="490.01" stroke="#222" stroke-width="1.3"/>
<line x1="282.5" y1="504.63" x2="518.7" y2="504.63" stroke="#222" stroke-width="1.3"/>
<line x1="282.5" y1="519.24" x2="518.7" y2="519.24" stroke="#222" stroke-width="1.3"/>
<line x1="282.5" y1="533.86" x2="518.7" y2="533.86" stroke="#222" stroke-width="1.3"/>
<line x1="282.5" y1="548.47" x2="518.7" y2="548.47" stroke="#222" stroke-width="1.3"/>
<line x1="282.5" y1="563.09" x2="518.7" y2="563.09" stroke="#222" stroke-width="1.3"/>
<line x1="282.5" y1="577.7" x2="518.7" y2="577.7" stroke="#222" stroke-width="1.3"/>
<line x1="282.5" y1="592.31" x2="518.7" y2="592.31" stroke="#222" stroke-width="1.3"/>
<line x1="282.5" y1="606.93" x2="518.7" y2="606.93" stroke="#222" stroke-width="1.3"/>
<line x1="282.5" y1="621.54" x2="518.7" y2="621.54" stroke="#222" stroke-width="1.3"/>
<line x1="282.5" y1="636.16" x2="518.7" y2="636.16" stroke="#222" stroke-width="1.3"/>
<line x1="282.5" y1="650.77" x2="518.7" y2="650.77" stroke="#222" stroke-width="1.3"/>
<line x1="282.5" y1="665.39" x2="518.7" y2="665.39" stroke="#222" stroke-width="1.3"/>
<line x1="282.5" y1="680.0" x2="518.7" y2="680.0" stroke="#222" stroke-width="1.3"/>
<line x1="282.5" y1="461.4" x2="518.7" y2="461.4" stroke="#222" stroke-width="1.2"/>
<line x1="282.5" y1="461.4" x2="282.5" y2="680.2" stroke="#222" stroke-width="1.2"/>
<line x1="518.7" y1="461.4" x2="518.7" y2="680.2" stroke="#222" stroke-width="1.2"/>
<line x1="395.5" y1="461.4" x2="395.5" y2="680.2" stroke="#222" stroke-width="1.3"/>
<line x1="457.5" y1="461.4" x2="457.5" y2="680.2" stroke="#222" stroke-width="1.3"/>
</svg></body></html>
